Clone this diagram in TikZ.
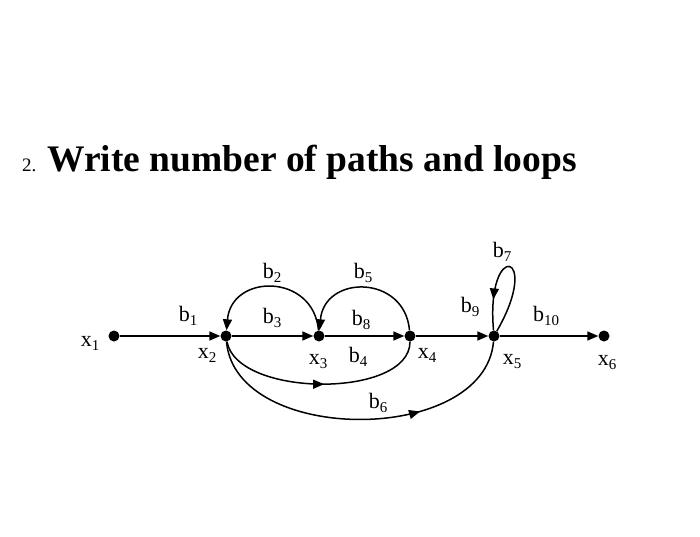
\documentclass[tikz,border=0pt]{standalone}
\usepackage{fontspec}
\setmainfont{Liberation Serif}
\usetikzlibrary{arrows.meta,decorations.markings}
\newcommand{\lsub}[1]{\raisebox{-0.4ex}{\fontsize{15}{15}\selectfont #1}}
\tikzset{midarrow/.style={postaction={decorate}, decoration={markings, mark=at position #1 with {\arrow{Triangle[length=11pt,width=9pt]}}}}}

\begin{document}
\begin{tikzpicture}[x=1pt,y=1pt]
	\tikzstyle{dot}=[circle, fill=black, inner sep=0pt, minimum size=11pt]
	\tikzstyle{connect}=[-{Triangle[length=11pt,width=9pt]}, line width=1.5pt]
	\tikzstyle{curve}=[line width=1.5pt]
	\tikzstyle{lbl}=[font=\fontsize{22}{24}\selectfont, inner sep=0pt]
	\useasboundingbox (0,0) rectangle (700,536);
	% title
	\node[anchor=base west, inner sep=0pt] (num) at (22,364) {\fontsize{19}{20}\selectfont 2.};
	\node[anchor=base west, inner sep=0pt] (title) at (47,364) {\fontsize{37.5}{40}\selectfont\bfseries Write number of paths and loops};
	% nodes
	\node[dot] (x1) at (114,200) {};
	\node[dot] (x2) at (226,200) {};
	\node[dot] (x3) at (319,200) {};
	\node[dot] (x4) at (410,200) {};
	\node[dot] (x5) at (494,200) {};
	\node[dot] (x6) at (604,200) {};
	\node[lbl] (lx1) at (90,193) {x\lsub{1}};
	\node[lbl] (lx2) at (207,181) {x\lsub{2}};
	\node[lbl] (lx3) at (318,174) {x\lsub{3}};
	\node[lbl] (lx4) at (427,181) {x\lsub{4}};
	\node[lbl] (lx5) at (512,174) {x\lsub{5}};
	\node[lbl] (lx6) at (607,173) {x\lsub{6}};

	\path
	(x1) edge [connect] (x2)
	(x2) edge [connect] (x3)
	(x3) edge [connect] (x4)
	(x4) edge [connect] (x5)
	(x5) edge [connect] (x6)
	(x3) edge [connect, out=95, in=85, looseness=1.6] (x2)
	(x4) edge [connect, out=95, in=85, looseness=1.6] (x3)
	(x2) edge [curve, midarrow=0.52, out=-80, in=-90, looseness=0.8] (x4)
	(x2) edge [curve, midarrow=0.68, out=-85, in=-95, looseness=1.0] (x5)
	(x5) edge [curve, midarrow=0.78, out=60, in=95, min distance=92pt] (x5);

	% branch gains
	\node[lbl] (lb1) at (188,220) {b\lsub{1}};
	\node[lbl] (lb2) at (272,263) {b\lsub{2}};
	\node[lbl] (lb3) at (272,218) {b\lsub{3}};
	\node[lbl] (lb4) at (358,179) {b\lsub{4}};
	\node[lbl] (lb5) at (363,263) {b\lsub{5}};
	\node[lbl] (lb6) at (378,133) {b\lsub{6}};
	\node[lbl] (lb7) at (502,284) {b\lsub{7}};
	\node[lbl] (lb8) at (361,216) {b\lsub{8}};
	\node[lbl] (lb9) at (470,229) {b\lsub{9}};
	\node[lbl] (lb10) at (546,220) {b\lsub{10}};
\end{tikzpicture}
\end{document}
